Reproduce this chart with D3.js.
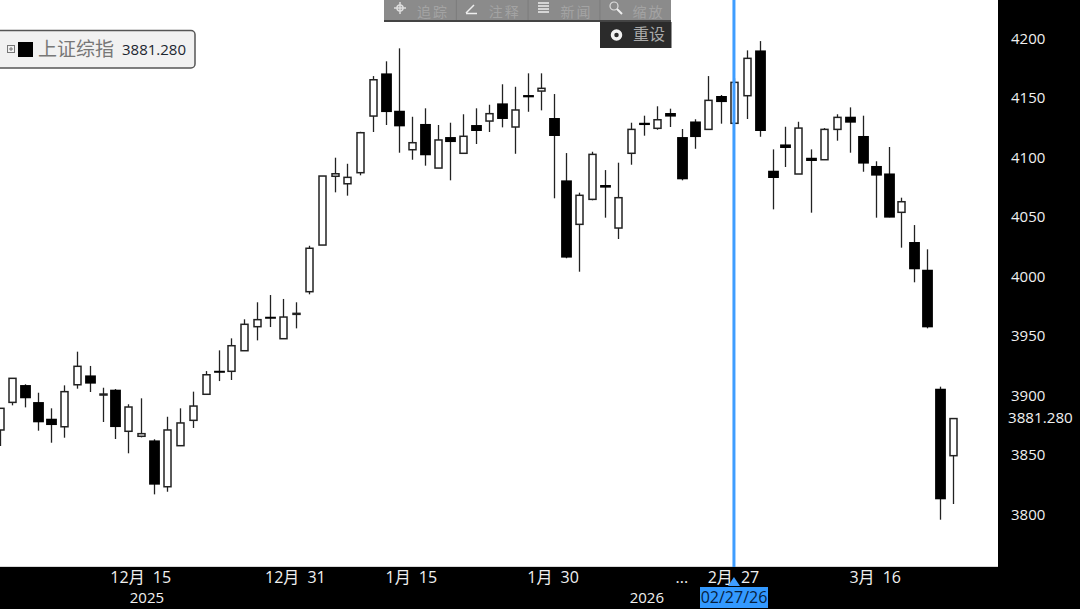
<!DOCTYPE html>
<html><head><meta charset="utf-8">
<script src="https://cdn.jsdelivr.net/npm/d3@7/dist/d3.min.js"></script>
<style>
html,body{margin:0;padding:0;background:#000;overflow:hidden}
svg{display:block}
text{font-family:"Open Sans","Noto Sans CJK SC",sans-serif}
.cjk{font-family:"Noto Sans CJK SC",sans-serif}
</style></head><body><svg id="c" width="1080" height="609"></svg>
<script>
const opens=[3871.7,3894.9,3909.2,3894.9,3880.9,3874.4,3909.7,3917.3,3901.7,3905.3,3870.6,3866.4,3862.7,3824,3858.5,3879.8,3901.7,3921.2,3921,3938.3,3958.5,3966.6,3948.4,3969.5,3987.9,4027.1,4084.9,4078.6,4087.9,4135.5,4171.1,4139.7,4107.2,4128.6,4091.8,4117.6,4104.2,4127.7,4131.3,4145.9,4126.3,4152.9,4156.5,4133.6,4081.2,4044.5,4065.5,4077.3,4041.4,4104.2,4129.6,4125.2,4137.8,4117.6,4130.7,4124.3,4152.1,4129.4,4152.6,4190.4,4089.3,4111.4,4086.8,4100.2,4098.8,4124.3,4134.7,4118.5,4093.3,4087,4054.6,4029.4,4006.1,3906.1,3850.1];
const highs=[3890.2,3915.4,3910.1,3903,3889.9,3909.2,3937.5,3925.5,3907.2,3906.1,3893.3,3898.3,3863.9,3882.8,3889.9,3903.9,3921.2,3938.6,3948.7,3964.7,3979,3985.1,3981.8,3979,4026.5,4085.1,4100.5,4095.4,4122.3,4169.1,4181.5,4192.4,4134.9,4142,4128,4129.9,4137,4142,4145,4162.2,4160.1,4171.4,4171.4,4154,4104.4,4071.1,4105.5,4090.1,4096.3,4129.9,4135.8,4143.7,4141.7,4124.6,4132.8,4169.1,4153.2,4167.2,4190.7,4198.5,4107.5,4126.5,4130.7,4107.5,4125.4,4137,4142.8,4135.8,4097.5,4109.5,4066.9,4043.9,4023.5,3908.1,3881.28];
const lows=[3858.2,3892.4,3890.7,3871.1,3861,3865.2,3906.4,3903.6,3878.4,3864.1,3852.1,3865.5,3817.6,3819.8,3858.2,3873.4,3901.7,3912.8,3913.7,3938.3,3947,3958.2,3948.4,3957.1,3985.7,4027.1,4071.4,4068.6,4085.7,4122.1,4128,4104.7,4098.8,4093.8,4091.8,4081.5,4104.2,4112,4122.1,4126,4103.8,4139.1,4140.3,4066.4,4016,4004.7,4064.7,4050.1,4032.2,4094.6,4119,4124,4126.3,4081.5,4108,4124.3,4129.1,4129.4,4133,4118.1,4057.1,4092.7,4086.8,4054.3,4098.8,4114.8,4104.7,4088.7,4050.1,4050.4,4024.9,3995.8,3957.1,3796.3,3809.5];
const closes=[3889.9,3915.1,3898.6,3878.4,3876.1,3903.9,3925.2,3910.9,3901.9,3874.4,3891,3868.6,3826,3871.7,3877.6,3891.8,3918.1,3920.2,3942.5,3960.5,3964.4,3965.5,3966.6,3969.7,4024.4,4085.1,4087,4084,4121.5,4166,4139.1,4127.1,4113.1,4102.8,4115.4,4113.9,4118.5,4123.2,4137.5,4133.3,4140.6,4151.5,4158.8,4119,4016.8,4068.9,4103.3,4075.6,4066.9,4124.3,4128.2,4132.4,4135.3,4082.6,4118.1,4148.7,4147.5,4163.8,4184,4123.2,4083.7,4108.9,4125.4,4098,4124.3,4134.4,4130.2,4095.8,4085.7,4050.4,4063.5,4007,3958.2,3813.7,3881.28];
const priceTicks=[3800,3850,3900,3950,4000,4050,4100,4150,4200];
const dateTickIdx=[11,23,32,43,53,57,68];
const dateTickLabels=["12月 15","12月 31","1月 15","1月 30","...","2月 27","3月 16"];
const yearIdx=[11.4,50.2];
const yearLabels=["2025","2026"];
const toolItems=["追踪","注释","新闻","缩放"];
const lastValue=3881.28, cursorIdx=57;
const seriesName="上证综指", cursorDate="02/27/26", resetLabel="重设";

const W=1080,H=609,plotR=998,plotB=567;
const svg=d3.select("#c");
const x=d3.scaleLinear().domain([0,74]).range([-0.5,953]);
const y=d3.scaleLinear().domain([3800,4200]).range([515.3,39.3]);

svg.append("rect").attr("width",W).attr("height",H).attr("fill","#000");
svg.append("rect").attr("width",plotR).attr("height",plotB).attr("fill","#fff");
svg.append("rect").attr("y",plotB-1).attr("width",plotR).attr("height",1).attr("fill","#d8d8d8");

const idx=d3.range(opens.length);
const g=svg.append("g");
g.selectAll("line.w").data(idx).join("line").attr("class","w")
 .attr("x1",i=>Math.round(x(i))+.5).attr("x2",i=>Math.round(x(i))+.5)
 .attr("y1",i=>y(highs[i])).attr("y2",i=>y(lows[i]))
 .attr("stroke","#222").attr("stroke-width",1.3);
g.selectAll("rect.b").data(idx).join("rect").attr("class","b")
 .each(function(i){
  const up=closes[i]>=opens[i];
  const t=y(Math.max(opens[i],closes[i])),b=y(Math.min(opens[i],closes[i]));
  const cx=Math.round(x(i))+.5;
  const s=d3.select(this);
  if(up){s.attr("x",cx-3.5).attr("width",7).attr("y",t).attr("height",Math.max(b-t,1))
    .attr("fill","#fff").attr("stroke","#222").attr("stroke-width",1.5);}
  else{s.attr("x",cx-5.4).attr("width",10.8).attr("y",t-.3).attr("height",Math.max(b-t+.6,2))
    .attr("fill","#000");}
 });

svg.append("line").attr("x1",x(cursorIdx)).attr("x2",x(cursorIdx)).attr("y1",0).attr("y2",plotB)
 .attr("stroke","#3f9dff").attr("stroke-width",3);

// right axis
const yAxis=svg.append("g").attr("transform",`translate(${plotR},-1)`)
 .call(d3.axisRight(y).tickValues(priceTicks).tickSize(0).tickPadding(13).tickFormat(d3.format("d")));
yAxis.select(".domain").remove();
yAxis.selectAll("text").attr("fill","#f0f0f0").style("font-size","15px").style("font-family",'"Open Sans",sans-serif');
svg.append("text").attr("x",1008).attr("y",y(lastValue)-1).attr("dy",".35em")
 .attr("fill","#f0f0f0").style("font-size","15.2px").text(d3.format(".3f")(lastValue));

// bottom axis
const xAxis=svg.append("g").attr("transform",`translate(-1,${plotB+1})`)
 .call(d3.axisBottom(x).tickValues(dateTickIdx).tickSize(0).tickPadding(3)
 .tickFormat((d,i)=>dateTickLabels[i]));
xAxis.select(".domain").remove();
xAxis.selectAll("text").attr("fill","#f0f0f0").style("font-size","16px").style("word-spacing","4px").style("font-family",'"Open Sans","Noto Sans CJK SC",sans-serif').attr("dy",".72em");
const yrAxis=svg.append("g").attr("transform",`translate(0,${plotB+25})`)
 .call(d3.axisBottom(x).tickValues(yearIdx).tickSize(0).tickPadding(0)
 .tickFormat((d,i)=>yearLabels[i]));
yrAxis.select(".domain").remove();
yrAxis.selectAll("text").attr("fill","#f0f0f0").style("font-size","15px").style("font-family",'"Open Sans",sans-serif').attr("dy",".72em");

// cursor date label
const cx=x(cursorIdx);
svg.append("rect").attr("x",700).attr("y",587).attr("width",68).attr("height",21).attr("fill","#3399ff");
svg.append("text").attr("x",734).attr("y",597).attr("dy",".35em").attr("text-anchor","middle")
 .attr("fill","#06213f").style("font-size","16px").text(cursorDate);
svg.append("path").attr("d",`M${cx-6},586 L${cx},577 L${cx+6},586 Z`).attr("fill","#3f9dff");

// toolbar
const tb=svg.append("g");
tb.append("rect").attr("x",384).attr("y",-2).attr("width",287).attr("height",23).attr("fill","#8b8b8b");
tb.append("rect").attr("x",384).attr("y",20).attr("width",287).attr("height",2).attr("fill","#444");
toolItems.forEach((t,i)=>{
  const x0=384+i*71.8;
  if(i>0)tb.append("rect").attr("x",x0).attr("y",0).attr("width",1).attr("height",20).attr("fill","#7c7c7c");
  tb.append("text").attr("class","cjk").attr("x",x0+33).attr("y",16.5).attr("fill","#a3a3a3")
    .style("font-size","14px").style("letter-spacing","2px").text(t);
});
tb.append("path").attr("d","M400,2V14M394,8H406").attr("stroke","#ddd").attr("stroke-width",1.5).attr("fill","none");
tb.append("circle").attr("cx",400).attr("cy",8).attr("r",3).attr("fill","none").attr("stroke","#ddd").attr("stroke-width",1.5);
tb.append("path").attr("d","M466,13L474,5M466,13.5H477").attr("stroke","#eee").attr("stroke-width",1.5).attr("fill","none");
tb.append("path").attr("d","M538,3H549M538,6H549M538,9H549M538,12H549").attr("stroke","#eee").attr("stroke-width",1.6).attr("fill","none");
tb.append("circle").attr("cx",614).attr("cy",6).attr("r",4).attr("stroke","#ddd").attr("stroke-width",1.2).attr("fill","none");
tb.append("path").attr("d","M617,9L622,14").attr("stroke","#eee").attr("stroke-width",2);

// reset button
tb.append("rect").attr("x",600).attr("y",22).attr("width",71.5).attr("height",26).attr("fill","#2b2b2b");
tb.append("circle").attr("cx",616.5).attr("cy",35).attr("r",4).attr("fill","none").attr("stroke","#f2f2f2").attr("stroke-width",3.5);
tb.append("text").attr("class","cjk").attr("x",633).attr("y",34).attr("dy",".35em").attr("fill","#aaaaaa")
  .style("font-size","16px").text(resetLabel);

// legend
const lg=svg.append("g");
lg.append("rect").attr("x",-6).attr("y",30.5).attr("width",201).attr("height",37.5).attr("rx",4)
  .attr("fill","#f1f1f1").attr("stroke","#555").attr("stroke-width",1.5);
lg.append("rect").attr("x",7.5).attr("y",45.5).attr("width",7).attr("height",7).attr("fill","none").attr("stroke","#777");
lg.append("path").attr("d","M9,49H13M11,47V51").attr("stroke","#777");
lg.append("rect").attr("x",18).attr("y",42).attr("width",15).attr("height",15).attr("fill","#000");
lg.append("text").attr("class","cjk").attr("x",38).attr("y",49.5).attr("dy",".35em").attr("fill","#777")
  .style("font-size","19px").text(seriesName);
lg.append("text").attr("x",122).attr("y",50).attr("dy",".35em").attr("fill","#1c2630")
  .style("font-size","15px").text(d3.format(".3f")(lastValue));
</script></body></html>
